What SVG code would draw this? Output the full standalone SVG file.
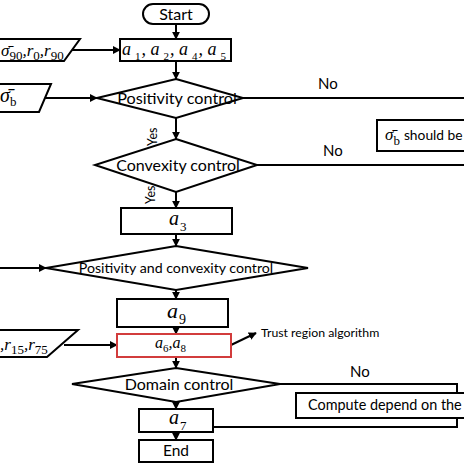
<svg xmlns="http://www.w3.org/2000/svg" width="464" height="464" viewBox="0 0 464 464">
<defs>
<marker id="ah" viewBox="0 0 10 10" refX="9" refY="5" markerWidth="4" markerHeight="4" orient="auto" markerUnits="strokeWidth">
<path d="M0,0 L10,5 L0,10 z" fill="#000"/>
</marker>
<style>
.s{fill:#fff;stroke:#000;stroke-width:2}
.r{fill:#fff;stroke:#d23c3c;stroke-width:2}
.l{fill:none;stroke:#000;stroke-width:2}
.la{fill:none;stroke:#000;stroke-width:2;marker-end:url(#ah)}
.t{font-family:Lato,"Liberation Sans",sans-serif;font-size:15.5px;fill:#000;text-anchor:middle}
.tl{font-family:Lato,"Liberation Sans",sans-serif;font-size:15px;fill:#000}
.m{font-family:"Liberation Serif",serif;font-style:italic;font-size:20px;fill:#000}
.sub{font-family:"Liberation Serif",serif;font-size:13px;fill:#000;font-style:normal}
</style>
</defs>
<rect width="464" height="464" fill="#fff"/>
<g id="connectors">
<line class="la" x1="176" y1="24" x2="176" y2="39"/>
<line class="la" x1="72" y1="50" x2="120" y2="50"/>
<line class="la" x1="176" y1="61" x2="176" y2="79"/>
<line class="la" x1="44" y1="98" x2="97" y2="98"/>
<line class="l" x1="243" y1="98" x2="464" y2="98"/>
<line class="la" x1="176" y1="118" x2="176" y2="139"/>
<line class="l" x1="257" y1="165" x2="464" y2="165"/>
<line class="la" x1="176" y1="192" x2="176" y2="208"/>
<line class="la" x1="176" y1="234" x2="176" y2="246"/>
<line class="la" x1="0" y1="268" x2="46" y2="268"/>
<line class="la" x1="176" y1="290" x2="176" y2="299"/>
<line class="la" x1="176" y1="327" x2="176" y2="334"/>
<line class="la" x1="64" y1="345" x2="117" y2="345"/>
<line class="la" x1="231" y1="345" x2="256" y2="333"/>
<line class="la" x1="176" y1="357" x2="176" y2="368"/>
<polyline class="l" points="280,384 457,384 457,427 213,427"/>
<line class="la" x1="176" y1="402" x2="176" y2="409"/>
<line class="la" x1="176" y1="432" x2="176" y2="440"/>
<text class="tl" x="318" y="89">No</text>
<text class="tl" x="323" y="156">No</text>
<text class="tl" x="350" y="377">No</text>
<text class="tl" style="font-size:12.5px" transform="translate(157,146) rotate(-90)">Yes</text>
<text class="tl" style="font-size:12.5px" transform="translate(155,204) rotate(-90)">Yes</text>
<text class="tl" x="261" y="337" style="font-size:12.3px">Trust region algorithm</text>
</g>
<g id="start">
<rect class="s" x="143" y="4" width="66" height="20" rx="10"/>
<text class="t" x="176" y="20" style="font-size:16px">Start</text>
</g>
<g id="input1">
<polygon class="s" points="-30,39 80,39 64,61 -40,61"/>
<text class="m" x="1" y="56" style="font-size:17px">σ̄<tspan class="sub" dy="4">90</tspan><tspan dy="-4">,r</tspan><tspan class="sub" dy="4">0</tspan><tspan dy="-4">,r</tspan><tspan class="sub" dy="4">90</tspan></text>
</g>
<g id="box1">
<rect class="s" x="120" y="39" width="111" height="22"/>
<text class="m" x="122" y="55" style="font-size:18px">a<tspan class="sub" dx="4" dy="5" style="font-size:11px">1</tspan><tspan dy="-5" dx="1">, a</tspan><tspan class="sub" dx="4" dy="5" style="font-size:11px">2</tspan><tspan dy="-5" dx="1">, a</tspan><tspan class="sub" dx="4" dy="5" style="font-size:11px">4</tspan><tspan dy="-5" dx="1">, a</tspan><tspan class="sub" dx="4" dy="5" style="font-size:11px">5</tspan></text>
</g>
<g id="input2">
<polygon class="s" points="-30,84 51,84 39,112 -40,112"/>
<text class="m" x="0" y="102">σ̄<tspan class="sub" dy="4">b</tspan></text>
</g>
<g id="positivity">
<polygon class="s" points="176,79 243,98 176,118 97,98"/>
<text class="t" x="177" y="104" style="font-size:16.2px">Positivity control</text>
</g>
<g id="note1">
<rect class="s" x="377" y="120" width="100" height="31"/>
<text class="m" x="385" y="140" style="font-size:17px">σ̄<tspan class="sub" dy="5">b</tspan><tspan class="tl" dy="-5" dx="4" style="font-style:normal;font-size:13.8px">should be</tspan></text>
</g>
<g id="convexity">
<polygon class="s" points="176,139 257,165 176,192 95,165"/>
<text class="t" x="178" y="171" style="font-size:16px">Convexity control</text>
</g>
<g id="box3">
<rect class="s" x="121" y="208" width="111" height="26"/>
<text class="m" x="169" y="225">a<tspan class="sub" dx="1" dy="6">3</tspan></text>
</g>
<g id="posconv">
<polygon class="s" points="176,246 308,268 176,290 46,268"/>
<text class="t" x="176" y="273" style="font-size:14.2px">Positivity and convexity control</text>
</g>
<g id="box9">
<rect class="s" x="117" y="299" width="111" height="28"/>
<text class="m" x="167" y="318" style="font-size:22px">a<tspan class="sub" dx="1" dy="6" style="font-size:14px">9</tspan></text>
</g>
<g id="input3">
<polygon class="s" points="-30,330 78,330 47,357 -40,357"/>
<text class="m" x="0" y="350" style="font-size:17px">,r<tspan class="sub" dy="4" style="font-size:13px">15</tspan><tspan dy="-4">,r</tspan><tspan class="sub" dy="4" style="font-size:13px">75</tspan></text>
</g>
<g id="box68">
<rect class="r" x="117" y="334" width="114" height="23"/>
<text class="m" x="155" y="348" style="font-size:16px">a<tspan class="sub" dy="4" style="font-size:11px">6</tspan><tspan dy="-4">,a</tspan><tspan class="sub" dy="4" style="font-size:11px">8</tspan></text>
</g>
<g id="domain">
<polygon class="s" points="176,368 280,384 176,402 72,384"/>
<text class="t" x="179" y="390" style="font-size:16px">Domain control</text>
</g>
<g id="note2">
<rect class="s" x="296" y="393" width="180" height="25"/>
<text class="tl" x="308" y="410" style="font-size:14.4px">Compute depend on the</text>
</g>
<g id="box7">
<rect class="s" x="139" y="409" width="74" height="23"/>
<text class="m" x="169" y="424">a<tspan class="sub" dx="1" dy="6">7</tspan></text>
</g>
<g id="end">
<rect class="s" x="139" y="440" width="74" height="22"/>
<text class="t" x="176" y="456">End</text>
</g>
</svg>
